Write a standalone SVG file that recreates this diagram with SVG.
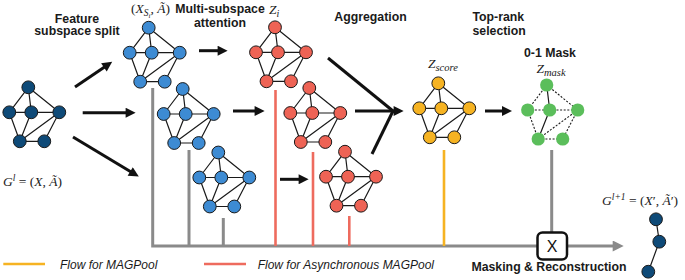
<svg xmlns="http://www.w3.org/2000/svg" xmlns:xlink="http://www.w3.org/1999/xlink" width="685" height="280" viewBox="0 0 685 280">
<style>
.lbl{font-family:"Liberation Sans",Arial,sans-serif;font-weight:bold;font-size:12.3px;fill:#1a1a1a}
.leg{font-family:"Liberation Sans",Arial,sans-serif;font-style:italic;font-size:12px;fill:#1a1a1a}
.math{font-family:"Liberation Serif","Times New Roman",serif;font-size:13.5px;fill:#1a1a1a}
.it{font-style:italic}
.arr{stroke:#111;stroke-width:3;fill:none}
.gray{stroke:#8a8a8a;stroke-width:3;fill:none}
.red{stroke:#EE6B5E;stroke-width:2.6;fill:none}
.yel{stroke:#F6B322;stroke-width:2.6;fill:none}
.edge{stroke:#1a1a1a;stroke-width:1.2;fill:none}
.dot{stroke:#1a1a1a;stroke-width:1.1;fill:none;stroke-dasharray:2 1.6}
.nd{stroke:#1a1a1a;stroke-width:1}
.gn{stroke:none}
</style>
<defs>
<marker id="ah" viewBox="0 0 10 10" refX="3" refY="5" markerWidth="12" markerHeight="10" markerUnits="userSpaceOnUse" orient="auto"><path d="M0,0 L10,5 L0,10 z" fill="#111"/></marker>
<marker id="ahg" viewBox="0 0 10 10" refX="3" refY="5" markerWidth="12" markerHeight="11" markerUnits="userSpaceOnUse" orient="auto"><path d="M0,0 L10,5 L0,10 z" fill="#8a8a8a"/></marker>
<g id="net">
<path class="edge" d="M0,0 L-19,25 M0,0 L3,25 M0,0 L31,25 M-19,25 L31,25 M-19,25 L-8.5,54 M3,25 L-8.5,54 M31,25 L-8.5,54 M31,25 L16,54 M-8.5,54 L16,54"/>
<circle class="nd" cx="0" cy="0" r="6.4"/>
<circle class="nd" cx="-19" cy="25" r="6.4"/>
<circle class="nd" cx="3" cy="25" r="6.4"/>
<circle class="nd" cx="31" cy="25" r="6.4"/>
<circle class="nd" cx="-8.5" cy="54" r="6.4"/>
<circle class="nd" cx="16" cy="54" r="6.4"/>
</g>
</defs>
<rect width="685" height="280" fill="#fff"/>

<g id="connectors">
<path class="gray" d="M152.7,88 V246 H616" marker-end="url(#ahg)"/>
<path class="gray" d="M189,150 V246"/>
<path class="gray" d="M223.3,218 V246"/>
<path class="gray" d="M551.7,150 V233"/>
<path class="red" d="M275.5,90 V246"/>
<path class="red" d="M313,152 V246"/>
<path class="red" d="M349.3,216 V246"/>
<path class="yel" d="M444,150 V246"/>
<line class="arr" x1="75" y1="87" x2="106.4" y2="65.7" marker-end="url(#ah)"/>
<line class="arr" x1="82.7" y1="112.7" x2="128.6" y2="112.7" marker-end="url(#ah)"/>
<line class="arr" x1="73" y1="137" x2="132.8" y2="173" marker-end="url(#ah)"/>
<line class="arr" x1="199" y1="50.7" x2="220.6" y2="50.7" marker-end="url(#ah)"/>
<line class="arr" x1="233" y1="111" x2="257.6" y2="111" marker-end="url(#ah)"/>
<line class="arr" x1="280" y1="179.3" x2="301.6" y2="179.3" marker-end="url(#ah)"/>
<line class="arr" x1="328" y1="58" x2="393" y2="111"/>
<line class="arr" x1="372" y1="154" x2="393" y2="111"/>
<line class="arr" x1="355" y1="111" x2="396.6" y2="111" marker-end="url(#ah)"/>
<line class="arr" x1="485" y1="111" x2="505" y2="111" marker-end="url(#ah)"/>
</g>

<g id="input-graph"><use xlink:href="#net" transform="translate(28.3,87.3)" fill="#0E4A78"/></g>
<g id="subspace-1"><use xlink:href="#net" transform="translate(148.7,27.7)" fill="#3D8BD3"/></g>
<g id="subspace-2"><use xlink:href="#net" transform="translate(182.7,89)" fill="#3D8BD3"/></g>
<g id="subspace-3"><use xlink:href="#net" transform="translate(218.3,152.5)" fill="#3D8BD3"/></g>
<g id="attention-1"><use xlink:href="#net" transform="translate(275,27.3)" fill="#EE6355"/></g>
<g id="attention-2"><use xlink:href="#net" transform="translate(309.3,88)" fill="#EE6355"/></g>
<g id="attention-3"><use xlink:href="#net" transform="translate(345,151.7)" fill="#EE6355"/></g>
<g id="score-graph"><use xlink:href="#net" transform="translate(438.3,83.3)" fill="#F6B322"/></g>

<g id="mask-graph" fill="#5BBE5B">
<path class="edge" d="M546.7,85 L549.7,110 M549.7,110 L538.2,139"/>
<path class="dot" d="M546.7,85 L527.7,110 M546.7,85 L577.7,110 M527.7,110 L577.7,110 M527.7,110 L538.2,139 M577.7,110 L538.2,139 M577.7,110 L562.7,139 M538.2,139 L562.7,139"/>
<circle class="gn" cx="546.7" cy="85" r="6.6"/>
<circle class="gn" cx="527.7" cy="110" r="6.6"/>
<circle class="gn" cx="549.7" cy="110" r="6.6"/>
<circle class="gn" cx="577.7" cy="110" r="6.6"/>
<circle class="gn" cx="538.2" cy="139" r="6.6"/>
<circle class="gn" cx="562.7" cy="139" r="6.6"/>
</g>

<g id="mask-op">
<rect x="537.5" y="232.5" width="29.5" height="27" rx="5" fill="#fff" stroke="#111" stroke-width="2.5"/>
<text x="552" y="252" text-anchor="middle" style="font-family:'Liberation Sans',Arial,sans-serif;font-size:16px;fill:#111">X</text>
</g>

<g id="output-graph" fill="#0E4A78">
<path class="edge" d="M656,219.3 L659.3,241.7 L648.3,271.7"/>
<circle class="nd" cx="656" cy="219.3" r="6.4"/>
<circle class="nd" cx="659.3" cy="241.7" r="6.4"/>
<circle class="nd" cx="648.3" cy="271.7" r="6.4"/>
</g>

<g id="labels">
<text class="lbl" x="77" y="22.5" text-anchor="middle">Feature</text>
<text class="lbl" x="77" y="35" text-anchor="middle">subspace split</text>
<text class="lbl" x="220" y="13" text-anchor="middle">Multi-subspace</text>
<text class="lbl" x="220" y="27" text-anchor="middle">attention</text>
<text class="lbl" x="370.5" y="21" text-anchor="middle">Aggregation</text>
<text class="lbl" x="472.5" y="21">Top-rank</text>
<text class="lbl" x="472.5" y="35">selection</text>
<text class="lbl" x="524" y="57">0-1 Mask</text>
<text class="lbl" x="549" y="270.5" text-anchor="middle">Masking &amp; Reconstruction</text>

<text class="math" x="131" y="13">(<tspan class="it">X</tspan><tspan class="it" font-size="9.5px" dy="3">S</tspan><tspan class="it" font-size="7px" dy="1.5">i</tspan><tspan dy="-4.5">, </tspan><tspan class="it">Ã</tspan>)</text>
<text class="math" x="269" y="14" font-size="15px"><tspan class="it">Z</tspan><tspan class="it" font-size="10px" dy="3">i</tspan></text>
<text class="math" x="428" y="68" font-size="15px"><tspan class="it">Z</tspan><tspan class="it" font-size="10.5px" dy="3">score</tspan></text>
<text class="math" x="536.5" y="73" font-size="15px"><tspan class="it">Z</tspan><tspan class="it" font-size="10.5px" dy="3">mask</tspan></text>
<text class="math" x="3" y="186"><tspan class="it">G</tspan><tspan class="it" font-size="9.5px" dy="-5">l</tspan><tspan dy="5"> = (</tspan><tspan class="it">X</tspan>, <tspan class="it">Ã</tspan>)</text>
<text class="math" x="602" y="205"><tspan class="it">G</tspan><tspan class="it" font-size="9.5px" dy="-5">l+1</tspan><tspan dy="5"> = (</tspan><tspan class="it">X</tspan>′, <tspan class="it">Ã</tspan>′)</text>
</g>

<g id="legend">
<line x1="3.3" y1="264" x2="45" y2="264" stroke="#F6B322" stroke-width="2.6"/>
<text class="leg" x="60" y="269.3">Flow for MAGPool</text>
<line x1="204" y1="264" x2="246" y2="264" stroke="#EE6B5E" stroke-width="2.6"/>
<text class="leg" x="257.7" y="269.3">Flow for Asynchronous MAGPool</text>
</g>
</svg>
